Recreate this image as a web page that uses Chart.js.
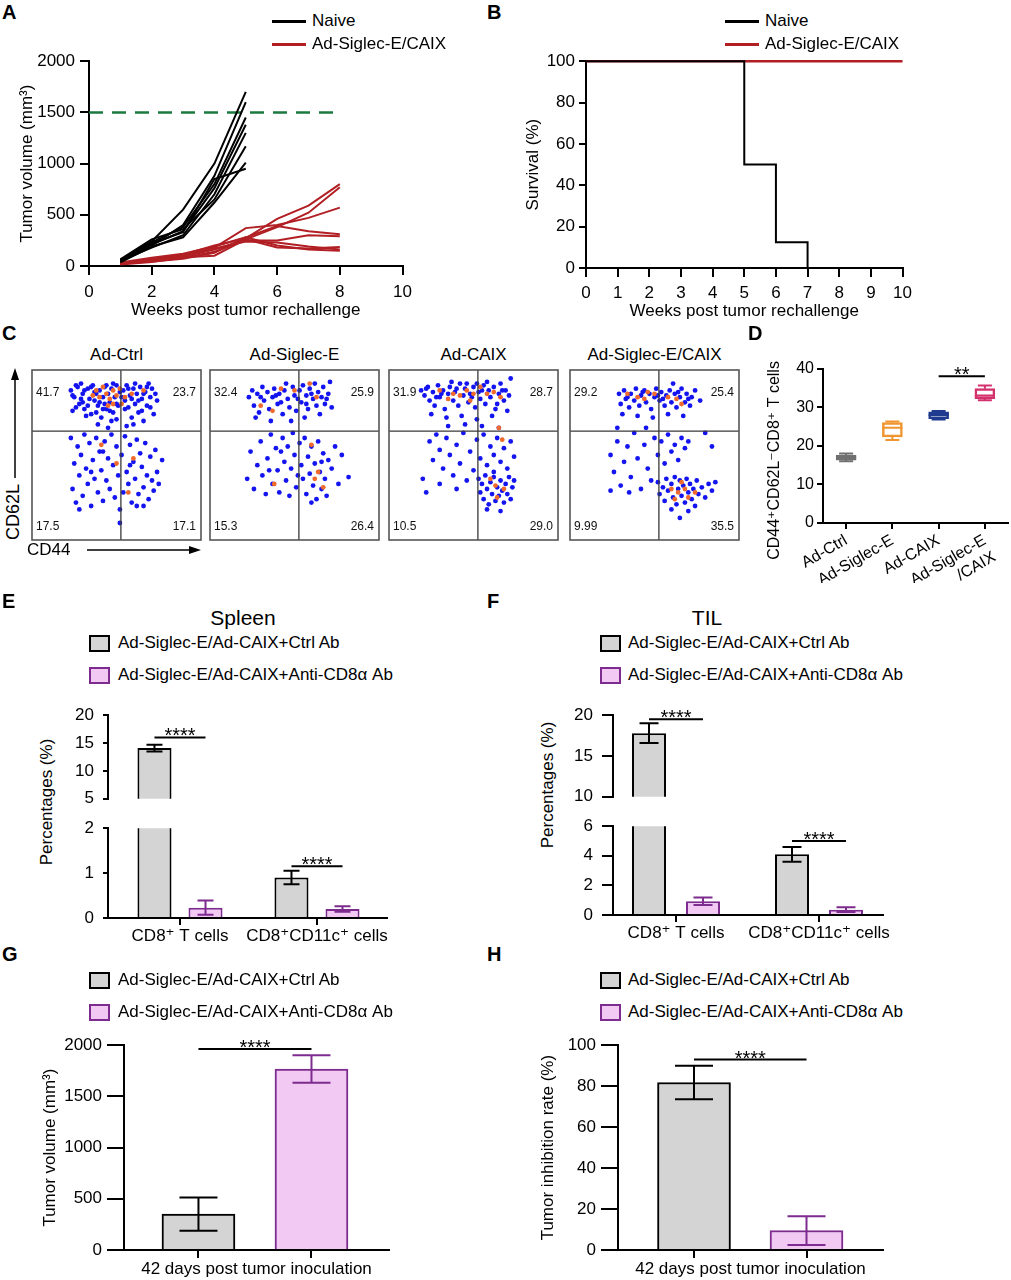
<!DOCTYPE html>
<html>
<head>
<meta charset="utf-8">
<script src="https://cdn.jsdelivr.net/npm/chart.js@4.4.1/dist/chart.umd.min.js"></script>
<style>
  body { margin: 0; background: #fff; overflow: hidden; }
  #fig { position: relative; width: 1011px; height: 1280px; overflow: hidden;
         font-family: "Liberation Sans", Arial, "DejaVu Sans", sans-serif; color: #000; }
  #fig canvas { position: absolute; }
  .t { position: absolute; white-space: nowrap; line-height: 1.2; }
  .sw { position: absolute; width: 17px; height: 13px; border: 2px solid #000; }
  .ln { position: absolute; width: 34px; height: 3px; }
</style>
</head>
<body>
<div id="fig">
  <svg width="210" height="570" style="position:absolute;left:0;top:0">
    <line x1="15" y1="478" x2="15" y2="378" stroke="#000" stroke-width="1.5"/>
    <polygon points="15,368 11,380 19,380" fill="#000"/>
    <line x1="87" y1="550" x2="191" y2="550" stroke="#000" stroke-width="1.5"/>
    <polygon points="201,550 189,546 189,554" fill="#000"/>
  </svg>
</div>
<script>
// ---- A: tumour growth after rechallenge (mm3) ----
const naiveWeeks = [1, 2, 3, 4, 5];
const naiveVolumes = [
  [55, 240, 550, 1000, 1700],
  [45, 200, 400, 880, 1600],
  [60, 230, 380, 800, 1450],
  [40, 210, 340, 760, 1380],
  [50, 180, 300, 700, 1300],
  [65, 260, 360, 650, 1170],
  [35, 190, 280, 620, 1010],
  [50, 220, 330, 850, 950]
];
const siglecCaixWeeks = [1, 2, 3, 4, 5, 6, 7, 8];
const siglecCaixVolumes = [
  [30, 70, 110, 200, 270, 460, 590, 800],
  [20, 50, 90, 160, 260, 380, 520, 770],
  [25, 60, 100, 180, 370, 400, 470, 570],
  [35, 80, 120, 190, 280, 390, 340, 310],
  [15, 40, 80, 140, 250, 250, 300, 290],
  [20, 55, 85, 100, 260, 180, 170, 185],
  [30, 65, 95, 170, 240, 230, 190, 160],
  [25, 45, 70, 130, 280, 200, 160, 150]
];
const thresholdWeeks = [0, 8];
const thresholdVolume = 1500;

// ---- B: survival ----
const survivalWeeksNaive = [0, 5, 6, 7];
const survivalNaive = [100, 50, 12.5, 0];
const survivalWeeksSiglec = [0, 10];
const survivalSiglec = [100, 100];

// ---- C: flow plots (CD44 vs CD62L, 0-100 display units) ----
const flowTitles = ['Ad-Ctrl', 'Ad-Siglec-E', 'Ad-CAIX', 'Ad-Siglec-E/CAIX'];
const flowQuadrants = [   // UL, UR, LL, LR
  ['41.7', '23.7', '17.5', '17.1'],
  ['32.4', '25.9', '15.3', '26.4'],
  ['31.9', '28.7', '10.5', '29.0'],
  ['29.2', '25.4', '9.99', '35.5']
];
const gateCD44 = 52.6;
const gateCD62L = 64;
const ctrlBlue = [
  [23,88],[25,84],[27,90],[28,80],[30,86],[31,77],[33,89],[34,83],[35,74],[36,91],[38,86],[39,79],[40,88],[41,72],[42,84],[43,90],[44,77],[45,86],[46,81],[47,89],[48,75],[49,84],[50,91],[51,79],[52,87],[26,78],[29,92],[32,73],[37,82],[43,80],[47,70],[24,76],[39,68],[45,66],[50,71],
  [24,85],[26,91],[29,83],[31,88],[33,79],[35,90],[37,87],[40,81],[42,77],[44,91],[46,76],[48,92],[50,80],[53,84],[55,77],[57,89],[59,83],[61,92],[63,82],[66,86],[68,90],[70,78],[73,86],[30,81],[38,75],
  [54,88],[55,82],[56,91],[57,78],[58,85],[59,72],[60,89],[61,80],[62,86],[63,75],[64,90],[65,83],[66,70],[67,87],[68,79],[70,84],[71,89],[72,74],[74,82],[56,67],[60,68],[65,76],[69,92],
  [23,60],[25,45],[24,30],[26,22],[27,55],[28,38],[29,50],[30,26],[31,62],[32,42],[33,33],[34,57],[35,20],[36,47],[37,36],[38,60],[39,28],[40,52],[41,41],[42,23],[43,58],[44,35],[45,48],[46,30],[47,62],[48,44],[49,25],[50,55],[51,38],[52,18],[53,50],[54,28],[55,61],[56,40],[57,33],[58,56],[59,22],[60,46],[61,36],[62,59],[63,27],[64,51],[65,43],[66,31],[67,57],[68,38],[69,24],[70,49],[71,35],[72,29],[73,53],[74,40],[75,33],[77,47],[28,18],[35,40],[42,52],[58,44],[66,20],[52,10],[62,20]
];
const ctrlOrange = [[38,88],[40,84],[42,90],[44,86],[46,83],[48,88],[50,85],[52,89],[55,84],[36,85],[45,79],[53,80],[59,86],[66,88],[41,56],[60,48],[57,28],[50,45],[48,80]];
const siglecBlue = [
  [23,84],[25,88],[26,79],[28,86],[29,75],[31,90],[32,82],[34,87],[35,77],[37,84],[38,89],[40,80],[41,86],[43,74],[44,88],[46,83],[47,78],[49,90],[50,85],[51,76],[53,88],[54,81],[55,91],[57,85],[58,77],[59,89],[61,83],[62,92],[63,79],[64,87],[66,84],[67,90],[68,80],[70,86],[71,93],[27,72],[36,70],[48,70],[56,72],[65,74],[72,78],[45,92],
  [30,84],[39,85],[52,83],[60,86],[69,83],[42,81],[57,80],
  [22,36],[24,52],[26,30],[28,44],[30,58],[31,38],[33,27],[34,48],[36,62],[37,33],[39,54],[40,41],[41,28],[43,60],[44,46],[45,35],[46,55],[47,26],[48,42],[49,63],[50,50],[51,31],[53,57],[54,44],[55,36],[56,60],[57,27],[58,49],[59,39],[60,55],[61,32],[62,45],[63,24],[64,58],[65,40],[66,30],[67,51],[68,36],[69,26],[70,47],[72,42],[74,55],[76,33],[78,50],[82,37],[35,41],[42,52],[52,38],[60,22],[66,46]
];
const siglecOrange = [[42,89],[50,88],[59,92],[63,84],[30,79],[37,76],[60,56],[62,36],[38,33],[67,31],[64,40]];
const caixBlue = [
  [19,88],[21,85],[23,90],[24,82],[26,87],[27,79],[29,91],[30,84],[32,88],[33,77],[35,86],[36,90],[38,82],[39,87],[41,79],[42,92],[44,85],[45,89],[47,81],[48,86],[50,90],[51,78],[53,87],[54,83],[56,91],[57,80],[59,88],[60,84],[62,90],[63,77],[65,86],[66,92],[68,82],[69,88],[71,85],[72,95],[25,74],[34,72],[43,73],[52,71],[61,73],[70,76],[46,92],[58,93],[37,93],[28,84],[64,80],
  [22,89],[31,86],[40,89],[49,84],[55,88],[67,88],[52,92],
  [24,58],[26,47],[28,62],[30,53],[32,42],[34,60],[36,50],[38,38],[40,56],[42,45],[44,63],[46,35],[48,52],[50,41],[52,59],[54,48],[56,62],[58,44],[60,55],[62,50],[64,60],[66,46],[68,54],[70,42],[72,58],[74,49],[20,36],[22,28],[30,33],[40,30],[65,66],[55,67],[45,68],[35,67],
  [53,36],[54,28],[55,33],[56,24],[57,38],[58,30],[59,21],[60,34],[61,27],[62,37],[63,23],[64,31],[65,26],[66,35],[67,29],[68,22],[69,33],[70,27],[71,37],[72,24],[73,31],[74,35],[58,18],[66,17],[62,40]
];
const caixOrange = [[30,88],[38,86],[42,85],[46,88],[50,86],[54,90],[58,86],[62,87],[35,83],[48,82],[66,84],[63,32],[60,36],[68,30],[65,66],[67,59],[64,25]];
const dualBlue = [
  [29,86],[30,80],[32,88],[33,83],[35,78],[36,86],[38,82],[39,89],[41,79],[42,85],[44,88],[45,81],[47,86],[48,77],[50,84],[51,89],[53,82],[54,87],[56,79],[57,85],[59,88],[60,81],[62,86],[63,78],[65,84],[66,89],[68,81],[69,86],[71,79],[72,84],[31,74],[40,73],[49,72],[58,74],[67,73],[74,88],[77,82],[61,92],
  [34,84],[43,87],[52,85],[55,83],[64,87],[70,83],
  [24,50],[26,40],[28,58],[30,32],[32,46],[34,55],[36,37],[38,63],[40,48],[42,30],[44,56],[46,42],[48,35],[50,60],[52,50],[54,58],[56,45],[58,62],[60,52],[62,56],[64,47],[66,60],[68,54],[70,58],[28,66],[45,66],[35,28],[24,29],[80,63],[84,55],
  [52,34],[53,27],[55,31],[56,23],[57,36],[58,29],[60,33],[61,25],[62,37],[63,21],[64,30],[65,35],[66,26],[67,32],[68,22],[69,36],[70,28],[71,33],[72,24],[73,30],[75,35],[76,27],[78,31],[80,25],[82,33],[84,29],[86,34],[60,18],[70,17],[74,20],[65,13]
];
const dualOrange = [[34,86],[40,84],[44,83],[46,87],[50,86],[58,84],[63,83],[66,80],[60,30],[64,28],[66,34],[68,30],[70,25],[62,24],[74,28]];

// ---- D: CD44+CD62L- CD8+ T cells (%) box plot ----
const boxGroups = ['Ad-Ctrl', 'Ad-Siglec-E', 'Ad-CAIX', ['Ad-Siglec-E', '/CAIX']];
const boxMin = [16.0, 21.5, 26.8, 31.8];
const boxQ1 = [16.3, 22.3, 27.0, 32.2];
const boxMedian = [17.0, 24.7, 28.0, 33.0];
const boxQ3 = [17.6, 26.0, 28.8, 34.8];
const boxMax = [18.0, 26.3, 29.0, 35.6];
const boxColors = ['#707070', '#f0952f', '#1f3b8f', '#d4306c'];

// ---- E/F: depletion, percentages ----
const cellTypes = ['CD8⁺ T cells', 'CD8⁺CD11c⁺ cells'];
const treatments = ['Ad-Siglec-E/Ad-CAIX+Ctrl Ab', 'Ad-Siglec-E/Ad-CAIX+Anti-CD8α Ab'];
const spleenCtrl = [14.1, 0.9];
const spleenCtrlSem = [0.6, 0.15];
const spleenAnti = [0.23, 0.2];
const spleenAntiSem = [0.16, 0.06];
const spleenSigY = [16, 1.15];
const tilCtrl = [17.8, 4.1];
const tilCtrlSem = [1.2, 0.5];
const tilAnti = [0.93, 0.36];
const tilAntiSem = [0.25, 0.16];
const tilSigY = [19.5, 5.0];

// ---- G/H: day 42 ----
const volume42 = [350, 1768];
const volume42Sem = [162, 135];
const volumeSigY = 1964;
const inhibition42 = [81.8, 9.5];
const inhibition42Sem = [8.2, 7];
const inhibitionSigY = 93;

const FONT = '"Liberation Sans", Arial, "DejaVu Sans", sans-serif';
const RED = '#b11f24';
const GRAY = '#d4d4d4';
const PINK = '#f1c9f3';
const PURPLE = '#7d2b8e';
const BLUE = '#1414f0';
const ORANGE = '#ef6a2c';

Chart.defaults.font.family = FONT;
Chart.defaults.font.size = 17;
Chart.defaults.color = '#000';
Chart.defaults.animation = false;
Chart.defaults.responsive = false;
Chart.defaults.plugins.legend.display = false;
Chart.defaults.plugins.tooltip.enabled = false;

const fig = document.getElementById('fig');

function canvasAt(left, top, w, h) {
  const c = document.createElement('canvas');
  c.width = w; c.height = h;
  c.style.left = left + 'px'; c.style.top = top + 'px';
  c.style.width = w + 'px'; c.style.height = h + 'px';
  fig.appendChild(c);
  return c;
}

function label(str, x, y, o = {}) {
  const d = document.createElement('div');
  d.className = 't';
  d.textContent = str;
  d.style.left = x + 'px';
  d.style.top = y + 'px';
  d.style.fontSize = (o.size || 17) + 'px';
  if (o.bold) d.style.fontWeight = 'bold';
  if (o.rotate) d.style.transform = 'translate(-50%,-50%) rotate(-90deg)';
  else if (o.center) d.style.transform = 'translate(-50%,-50%)';
  else d.style.transform = 'translateY(-50%)';
  fig.appendChild(d);
}

function swatch(x, y, fill, border) {
  const d = document.createElement('div');
  d.className = 'sw';
  d.style.left = x + 'px'; d.style.top = (y - 8) + 'px';
  d.style.background = fill; d.style.borderColor = border;
  fig.appendChild(d);
}

function lineKey(x, y, color) {
  const d = document.createElement('div');
  d.className = 'ln';
  d.style.left = x + 'px'; d.style.top = (y - 1.5) + 'px';
  d.style.background = color;
  fig.appendChild(d);
}

const plain = v => String(v);

function yAxis(min, max, step, fit, tickLen, pad, title, size) {
  return {
    type: 'linear', min, max,
    border: { color: '#000', width: 2 },
    grid: { drawOnChartArea: false, tickLength: tickLen, lineWidth: 2, color: '#000' },
    ticks: { stepSize: step, padding: pad, font: { size: size || 17 }, callback: plain },
    title: title ? { display: true, text: title, padding: 0, font: { size: size || 17 } } : { display: false },
    afterFit: s => { s.width = fit; }
  };
}

function xAxis(min, max, step, fit, tickLen, pad, title) {
  return {
    type: 'linear', min, max,
    border: { color: '#000', width: 2 },
    grid: { drawOnChartArea: false, tickLength: tickLen, lineWidth: 2, color: '#000' },
    ticks: { stepSize: step, padding: pad, autoSkip: false, maxRotation: 0, callback: plain },
    title: { display: true, text: title, padding: 0 },
    afterFit: s => { s.height = fit; }
  };
}

// category index axis on a linear scale, so the bar centres land on the picture's ticks
function indexAxis(min, max, names, fit, tickLen, pad, o = {}) {
  return {
    type: 'linear', min, max, offset: false, display: o.display !== false,
    afterBuildTicks: s => { s.ticks = names.map((n, i) => ({ value: i })); },
    border: { color: '#000', width: 2 },
    grid: { drawOnChartArea: false, offset: false, tickLength: tickLen, lineWidth: 2, color: '#000' },
    ticks: { display: o.labels !== false, padding: pad, autoSkip: false, maxRotation: 0,
             callback: v => names[v] !== undefined ? names[v] : '' },
    title: o.title ? { display: true, text: o.title, padding: 0 } : { display: false },
    afterFit: s => { s.height = fit; }
  };
}

// error bars in each bar's own border colour, clipped to the plot area
const errorBars = {
  id: 'errorBars',
  afterDatasetsDraw(chart) {
    const ctx = chart.ctx, a = chart.chartArea, ys = chart.scales.y;
    ctx.save();
    ctx.beginPath();
    ctx.rect(a.left - 30, a.top - 1, a.right - a.left + 60, a.bottom - a.top + 1);
    ctx.clip();
    chart.data.datasets.forEach((ds, i) => {
      if (!ds.errors) return;
      chart.getDatasetMeta(i).data.forEach((bar, j) => {
        const v = ds.data[j].y, e = ds.errors[j], cw = ds.capWidth / 2;
        const hi = ys.getPixelForValue(v + e), lo = ys.getPixelForValue(v - e);
        ctx.strokeStyle = Array.isArray(ds.borderColor) ? ds.borderColor[j] : ds.borderColor;
        ctx.lineWidth = 2;
        ctx.beginPath();
        ctx.moveTo(bar.x, hi); ctx.lineTo(bar.x, lo);
        ctx.moveTo(bar.x - cw, hi); ctx.lineTo(bar.x + cw, hi);
        ctx.moveTo(bar.x - cw, lo); ctx.lineTo(bar.x + cw, lo);
        ctx.stroke();
      });
    });
    ctx.restore();
  }
};

const boxWhiskers = {
  id: 'boxWhiskers',
  afterDatasetsDraw(chart) {
    const ctx = chart.ctx, ys = chart.scales.y;
    chart.data.datasets.forEach((ds, i) => {
      if (!ds.whisker) return;
      chart.getDatasetMeta(i).data.forEach((box, j) => {
        const w = ds.whisker;
        const pMin = ys.getPixelForValue(w.min[j]), pMax = ys.getPixelForValue(w.max[j]);
        const pQ1 = ys.getPixelForValue(ds.data[j][0]), pQ3 = ys.getPixelForValue(ds.data[j][1]);
        const pMed = ys.getPixelForValue(w.med[j]);
        const half = box.width / 2, cap = 7;
        ctx.save();
        ctx.strokeStyle = ds.borderColor[j];
        ctx.lineWidth = 2;
        ctx.beginPath();
        ctx.moveTo(box.x, pQ1); ctx.lineTo(box.x, pMin);
        ctx.moveTo(box.x - cap, pMin); ctx.lineTo(box.x + cap, pMin);
        ctx.moveTo(box.x, pQ3); ctx.lineTo(box.x, pMax);
        ctx.moveTo(box.x - cap, pMax); ctx.lineTo(box.x + cap, pMax);
        ctx.moveTo(box.x - half, pMed); ctx.lineTo(box.x + half, pMed);
        ctx.stroke();
        ctx.restore();
      });
    });
  }
};

Chart.register(errorBars, boxWhiskers);

// significance bar between two bar elements, skipped when outside this chart's y range
function sigMarks(marks) {
  return {
    id: 'sigMarks',
    afterDatasetsDraw(chart) {
      const ctx = chart.ctx, a = chart.chartArea, ys = chart.scales.y;
      marks.forEach(m => {
        const y = ys.getPixelForValue(m.y);
        if (y < a.top - 12 || y > a.bottom) return;
        const x0 = chart.getDatasetMeta(m.from[0]).data[m.from[1]].x;
        const x1 = chart.getDatasetMeta(m.to[0]).data[m.to[1]].x;
        ctx.save();
        ctx.strokeStyle = '#000';
        ctx.lineWidth = 2;
        ctx.beginPath(); ctx.moveTo(x0, y); ctx.lineTo(x1, y); ctx.stroke();
        ctx.fillStyle = '#000';
        ctx.font = '20px ' + FONT;
        ctx.textAlign = 'center';
        ctx.textBaseline = 'alphabetic';
        ctx.fillText(m.text, (x0 + x1) / 2, y + 5);
        ctx.restore();
      });
    }
  };
}

function quadrants(texts) {
  return {
    id: 'quadrants',
    afterDatasetsDraw(chart) {
      const ctx = chart.ctx, a = chart.chartArea;
      const gx = chart.scales.x.getPixelForValue(gateCD44);
      const gy = chart.scales.y.getPixelForValue(gateCD62L);
      ctx.save();
      ctx.strokeStyle = '#3a3a3a';
      ctx.lineWidth = 1.3;
      ctx.beginPath();
      ctx.moveTo(gx, a.top); ctx.lineTo(gx, a.bottom);
      ctx.moveTo(a.left, gy); ctx.lineTo(a.right, gy);
      ctx.stroke();
      ctx.strokeStyle = '#555';
      ctx.lineWidth = 1.6;
      ctx.strokeRect(a.left, a.top, a.right - a.left, a.bottom - a.top);
      ctx.fillStyle = '#111';
      ctx.font = '12px ' + FONT;
      ctx.textBaseline = 'middle';
      ctx.textAlign = 'left';
      ctx.fillText(texts[0], a.left + 4, a.top + 23);
      ctx.fillText(texts[2], a.left + 4, a.bottom - 13);
      ctx.textAlign = 'right';
      ctx.fillText(texts[1], a.right - 5, a.top + 23);
      ctx.fillText(texts[3], a.right - 5, a.bottom - 13);
      ctx.restore();
    }
  };
}

// ---------------- A ----------------
new Chart(canvasAt(17, 46, 402, 275), {
  type: 'line',
  data: {
    datasets: [
      ...naiveVolumes.map(v => ({ data: v.map((y, i) => ({ x: naiveWeeks[i], y })), borderColor: '#000' })),
      ...siglecCaixVolumes.map(v => ({ data: v.map((y, i) => ({ x: siglecCaixWeeks[i], y })), borderColor: RED })),
      { data: thresholdWeeks.map(x => ({ x, y: thresholdVolume })), borderColor: '#1b7a3f', borderDash: [14, 9], borderWidth: 2.5 }
    ]
  },
  options: {
    layout: { padding: { top: 12, right: 14 } },
    elements: { point: { radius: 0 }, line: { borderWidth: 2, tension: 0 } },
    scales: {
      x: xAxis(0, 10, 2, 55, 9, 7, 'Weeks post tumor rechallenge'),
      y: yAxis(0, 2000, 500, 72, 9, 5, 'Tumor volume (mm³)')
    }
  }
});
lineKey(272, 21, '#000'); label('Naive', 312, 21);
lineKey(272, 44, RED); label('Ad-Siglec-E/CAIX', 312, 44);

// ---------------- B ----------------
new Chart(canvasAt(523, 47, 395, 275), {
  type: 'line',
  data: {
    datasets: [
      { data: survivalWeeksNaive.map((x, i) => ({ x, y: survivalNaive[i] })), borderColor: '#000', stepped: true, clip: false },
      { data: survivalWeeksSiglec.map((x, i) => ({ x, y: survivalSiglec[i] })), borderColor: RED, borderWidth: 2.5, clip: false }
    ]
  },
  options: {
    layout: { padding: { top: 12, right: 14 } },
    elements: { point: { radius: 0 }, line: { borderWidth: 2 } },
    scales: {
      x: xAxis(0, 10, 1, 54, 9, 6, 'Weeks post tumor rechallenge'),
      y: yAxis(0, 100, 20, 63, 7, 4, 'Survival (%)')
    }
  }
});
lineKey(725, 21, '#000'); label('Naive', 765, 21);
lineKey(725, 44, RED); label('Ad-Siglec-E/CAIX', 765, 44);

// ---------------- C ----------------
const flowBoxes = [[30, 368, 173, 174], [208, 368, 173, 174], [387, 368, 173, 174], [568, 368, 173, 174]];
const flowPoints = [[ctrlBlue, ctrlOrange], [siglecBlue, siglecOrange], [caixBlue, caixOrange], [dualBlue, dualOrange]];
flowBoxes.forEach((b, k) => {
  const [blue, orange] = flowPoints[k];
  new Chart(canvasAt(b[0] - 2, b[1] - 2, b[2] + 4, b[3] + 4), {
    type: 'scatter',
    data: {
      datasets: [
        { data: orange.map(([x, y]) => ({ x, y })), backgroundColor: ORANGE, borderWidth: 0, pointRadius: 2.4 },
        { data: blue.map(([x, y]) => ({ x, y })), backgroundColor: BLUE, borderWidth: 0, pointRadius: 2.4 }
      ]
    },
    options: {
      layout: { padding: 2 },
      scales: {
        x: { type: 'linear', min: 0, max: 100, display: false },
        y: { type: 'linear', min: 0, max: 100, display: false }
      }
    },
    plugins: [quadrants(flowQuadrants[k])]
  });
  label(flowTitles[k], b[0] + b[2] / 2, 355, { center: true });
});
label('CD62L', 14, 512, { rotate: true, size: 18 });
label('CD44', 27, 550, { size: 17 });

// ---------------- D ----------------
new Chart(canvasAt(765, 356, 261, 227), {
  type: 'bar',
  data: {
    labels: boxGroups,
    datasets: [{
      data: boxGroups.map((g, i) => [boxQ1[i], boxQ3[i]]),
      backgroundColor: '#fff',
      borderColor: boxColors,
      borderWidth: 2.5,
      borderSkipped: false,
      barThickness: 20,
      whisker: { min: boxMin, med: boxMedian, max: boxMax }
    }]
  },
  options: {
    layout: { padding: { top: 12, right: 18 } },
    scales: {
      x: {
        type: 'category', offset: true,
        border: { color: '#000', width: 2 },
        grid: { drawOnChartArea: false, offset: false, tickLength: 6, lineWidth: 2, color: '#000' },
        ticks: { minRotation: 30, maxRotation: 30, autoSkip: false, padding: 2, font: { size: 16 } },
        afterFit: s => { s.height = 60; }
      },
      y: yAxis(0, 40, 10, 58, 6, 3, 'CD44⁺CD62L⁻CD8⁺ T cells (%)', 16)
    }
  },
  plugins: [sigMarks([{ from: [0, 2], to: [0, 3], y: 38, text: '**' }])]
});

// ---------------- E / F (broken y axis) ----------------
function brokenBars(o) {
  const makeSets = () => [
    { data: cellTypes.map((c, i) => ({ x: i, y: o.ctrl[i] })), errors: o.ctrlSem, capWidth: o.cap,
      backgroundColor: GRAY, borderColor: '#000', borderWidth: 2, clip: 0,
      barPercentage: o.barPct, categoryPercentage: o.catPct },
    { data: cellTypes.map((c, i) => ({ x: i, y: o.anti[i] })), errors: o.antiSem, capWidth: o.cap,
      backgroundColor: PINK, borderColor: PURPLE, borderWidth: 2, clip: 0,
      barPercentage: o.barPct, categoryPercentage: o.catPct }
  ];
  const marks = o.sigY.map((y, g) => ({ from: [0, g], to: [1, g], y, text: '****' }));
  new Chart(canvasAt(o.left, o.upper.top, o.width, o.upper.h), {
    type: 'bar',
    data: { datasets: makeSets() },
    options: {
      layout: { padding: { top: 12, right: 20, bottom: 12 } },
      scales: {
        x: indexAxis(o.xMin, o.xMax, cellTypes, 0, 7, 1, { display: false }),
        y: yAxis(o.upper.min, o.upper.max, 5, o.wY, o.yTick, 9)
      }
    },
    plugins: [sigMarks(marks)]
  });
  new Chart(canvasAt(o.left, o.lower.top, o.width, o.lower.h), {
    type: 'bar',
    data: { datasets: makeSets() },
    options: {
      layout: { padding: { top: 12, right: 20 } },
      scales: {
        x: indexAxis(o.xMin, o.xMax, cellTypes, 32, 7, 1),
        y: yAxis(0, o.lower.max, o.lower.step, o.wY, o.yTick, 9)
      }
    },
    plugins: [sigMarks(marks)]
  });
}

brokenBars({
  left: 70, wY: 38, width: 337, xMin: -0.5255, xMax: 1.511, yTick: 5, cap: 16,
  barPct: 0.667, catPct: 0.745,
  upper: { top: 696, h: 122, min: 5, max: 20 },
  lower: { top: 809, h: 141, max: 2, step: 1 },
  ctrl: spleenCtrl, ctrlSem: spleenCtrlSem, anti: spleenAnti, antiSem: spleenAntiSem, sigY: spleenSigY
});
brokenBars({
  left: 565, wY: 48, width: 338, xMin: -0.4406, xMax: 1.4476, yTick: 11, cap: 19,
  barPct: 0.63, catPct: 0.755,
  upper: { top: 696, h: 120, min: 10, max: 20 },
  lower: { top: 807, h: 140, max: 6, step: 2 },
  ctrl: tilCtrl, ctrlSem: tilCtrlSem, anti: tilAnti, antiSem: tilAntiSem, sigY: tilSigY
});
label('Spleen', 243, 618, { center: true, size: 21 });
label('TIL', 707, 618, { center: true, size: 21 });
label('Percentages (%)', 47, 802, { rotate: true });
label('Percentages (%)', 548, 785, { rotate: true });
[[89, 118], [600, 628]].forEach(([sx, tx]) => {
  swatch(sx, 643, GRAY, '#000'); label(treatments[0], tx, 643);
  swatch(sx, 675, PINK, PURPLE); label(treatments[1], tx, 675);
});

// ---------------- G / H ----------------
function dayBars(o) {
  new Chart(canvasAt(o.left, 1030, o.width, 250), {
    type: 'bar',
    data: {
      datasets: [{
        data: treatments.map((t, i) => ({ x: i, y: o.values[i] })),
        errors: o.sem, capWidth: 38,
        backgroundColor: [GRAY, PINK], borderColor: ['#000', PURPLE], borderWidth: 2,
        barThickness: 73, clip: 0
      }]
    },
    options: {
      layout: { padding: { top: 12, right: 20 } },
      scales: {
        x: indexAxis(o.xMin, o.xMax, treatments, 30, 8, 2, { labels: false, title: '42 days post tumor inoculation' }),
        y: yAxis(0, o.max, o.step, o.wY, 17, 5, o.title)
      }
    },
    plugins: [sigMarks([{ from: [0, 0], to: [0, 1], y: o.sigY, text: '****' }])]
  });
}

dayBars({ left: 40, width: 369, wY: 84, xMin: -0.659, xMax: 1.686, max: 2000, step: 500,
          values: volume42, sem: volume42Sem, sigY: volumeSigY, title: 'Tumor volume (mm³)' });
dayBars({ left: 538, width: 365, wY: 80, xMin: -0.6756, xMax: 1.68, max: 100, step: 20,
          values: inhibition42, sem: inhibition42Sem, sigY: inhibitionSigY, title: 'Tumor inhibition rate (%)' });
[[89, 118], [600, 628]].forEach(([sx, tx]) => {
  swatch(sx, 980, GRAY, '#000'); label(treatments[0], tx, 980);
  swatch(sx, 1012, PINK, PURPLE); label(treatments[1], tx, 1012);
});

// ---------------- panel letters ----------------
[['A', 2, 11.5], ['B', 487, 11.5], ['C', 2, 333], ['D', 748, 333],
 ['E', 2, 601], ['F', 487, 601], ['G', 2, 954], ['H', 487, 954]].forEach(([ch, x, y]) => {
  label(ch, x, y, { bold: true, size: 20 });
});
</script>
</body>
</html>
